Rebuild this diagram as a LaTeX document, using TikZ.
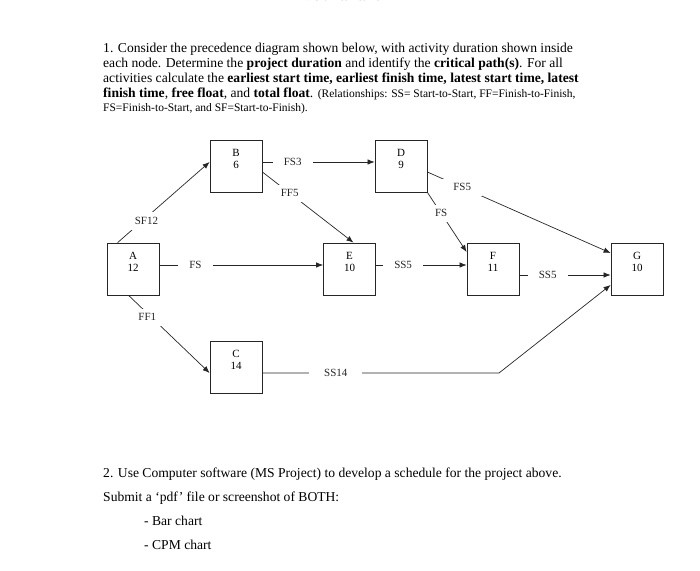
\documentclass[tikz,border=0pt]{standalone}
\usepackage{fontspec}
\setmainfont{Liberation Serif}
\usetikzlibrary{arrows.meta}
\tikzset{
    link label/.style={
        font=\fontsize{11}{13}\selectfont,
        fill=white,
        inner xsep=11pt,
        inner ysep=5pt
    }
}

\begin{document}
\begin{tikzpicture}[x=1pt, y=-1pt, >={Latex[length=7pt,width=5.5pt]}]

    \useasboundingbox (0,0) rectangle (700,570);
    \clip (0,0) rectangle (700,570);

    \tikzstyle{activity} = [
        draw=black!85,
        line width=0.8pt,
        minimum size=52pt,
        inner sep=0pt,
        align=center,
        text height=22pt,
        text depth=16.6pt,
        font=\fontsize{11}{12.5}\selectfont
    ]
    \tikzstyle{body} = [
        anchor=base west,
        inner sep=0pt,
        font=\fontsize{13.6}{15}\selectfont
    ]

    % Énoncé
    \node[anchor=base, inner sep=0pt, font=\fontsize{14}{16}\selectfont\bfseries] (due) at (350,1) {Due 10/28/2022};
    \node[body] (intro1) at (103,52) {1. Consider the precedence diagram shown below, with activity duration shown inside};
    \node[body] (intro2) at (103,67) {each node. Determine the \textbf{project duration} and identify the \textbf{critical path(s)}. For all};
    \node[body] (intro3) at (103,82) {activities calculate the \textbf{earliest start time, earliest finish time, latest start time, latest}};
    \node[body] (intro4) at (103,97) {\textbf{finish time}, \textbf{free float}, and \textbf{total float}. {\fontsize{11.5}{13}\selectfont (Relationships: SS= Start-to-Start, FF=Finish-to-Finish,}};
    \node[body, font=\fontsize{11.5}{13}\selectfont] (intro5) at (103,111) {FS=Finish-to-Start, and SF=Start-to-Finish).};

    % Créer les nœuds
    \node[activity] (A) at (133,269) {A\\12};
    \node[activity] (B) at (236,166) {B\\6};
    \node[activity] (C) at (236,367) {C\\14};
    \node[activity] (D) at (401,166) {D\\9};
    \node[activity] (E) at (349.5,269) {E\\10};
    \node[activity] (F) at (493,269) {F\\11};
    \node[activity] (G) at (637,269) {G\\10};
    \coordinate (kink) at (499,373);

    % Dessiner les liens
    \path[->, black!85, line width=0.7pt]
        ([xshift=11pt]A.north west) edge node[link label, pos=.27, xshift=4pt] {SF12} ([yshift=4pt]B.west)
        ([xshift=22pt]A.south west) edge node[link label, pos=.28, xshift=-4pt] {FF1} ([yshift=-6pt]C.west)
        ([yshift=4pt]A.east) edge node[link label, pos=.22] {FS} ([yshift=4pt]E.west)
        ([yshift=4pt]B.east) edge node[link label, pos=.27] {FS3} ([yshift=4pt]D.west)
        ([yshift=-6pt]B.east) edge node[link label, pos=.3] {FF5} ([xshift=4pt]E.north)
        (D.south east) edge node[link label, pos=.35] {FS} ([yshift=17pt]F.west)
        ([yshift=-6pt]D.east) edge node[link label, pos=.19] {FS5} ([yshift=16pt]G.west)
        ([yshift=4pt]E.east) edge node[link label, pos=.3] {SS5} ([yshift=4pt]F.west)
        ([yshift=-6pt]F.east) edge node[link label, pos=.31] {SS5} ([yshift=-6pt]G.west);
    \draw[->, black!85, line width=0.7pt]
        ([yshift=-6pt]C.east) -- node[link label, pos=.31, inner xsep=15pt] {SS14} (kink) -- ([yshift=-16pt]G.west);

    % Deuxième question
    \node[body] (task1) at (103,477) {2. Use Computer software (MS Project) to develop a schedule for the project above.};
    \node[body] (task2) at (103,501) {Submit a ‘pdf’ file or screenshot of BOTH:};
    \node[body] (task3) at (144,525) {- Bar chart};
    \node[body] (task4) at (144,549) {- CPM chart};

\end{tikzpicture}
\end{document}
